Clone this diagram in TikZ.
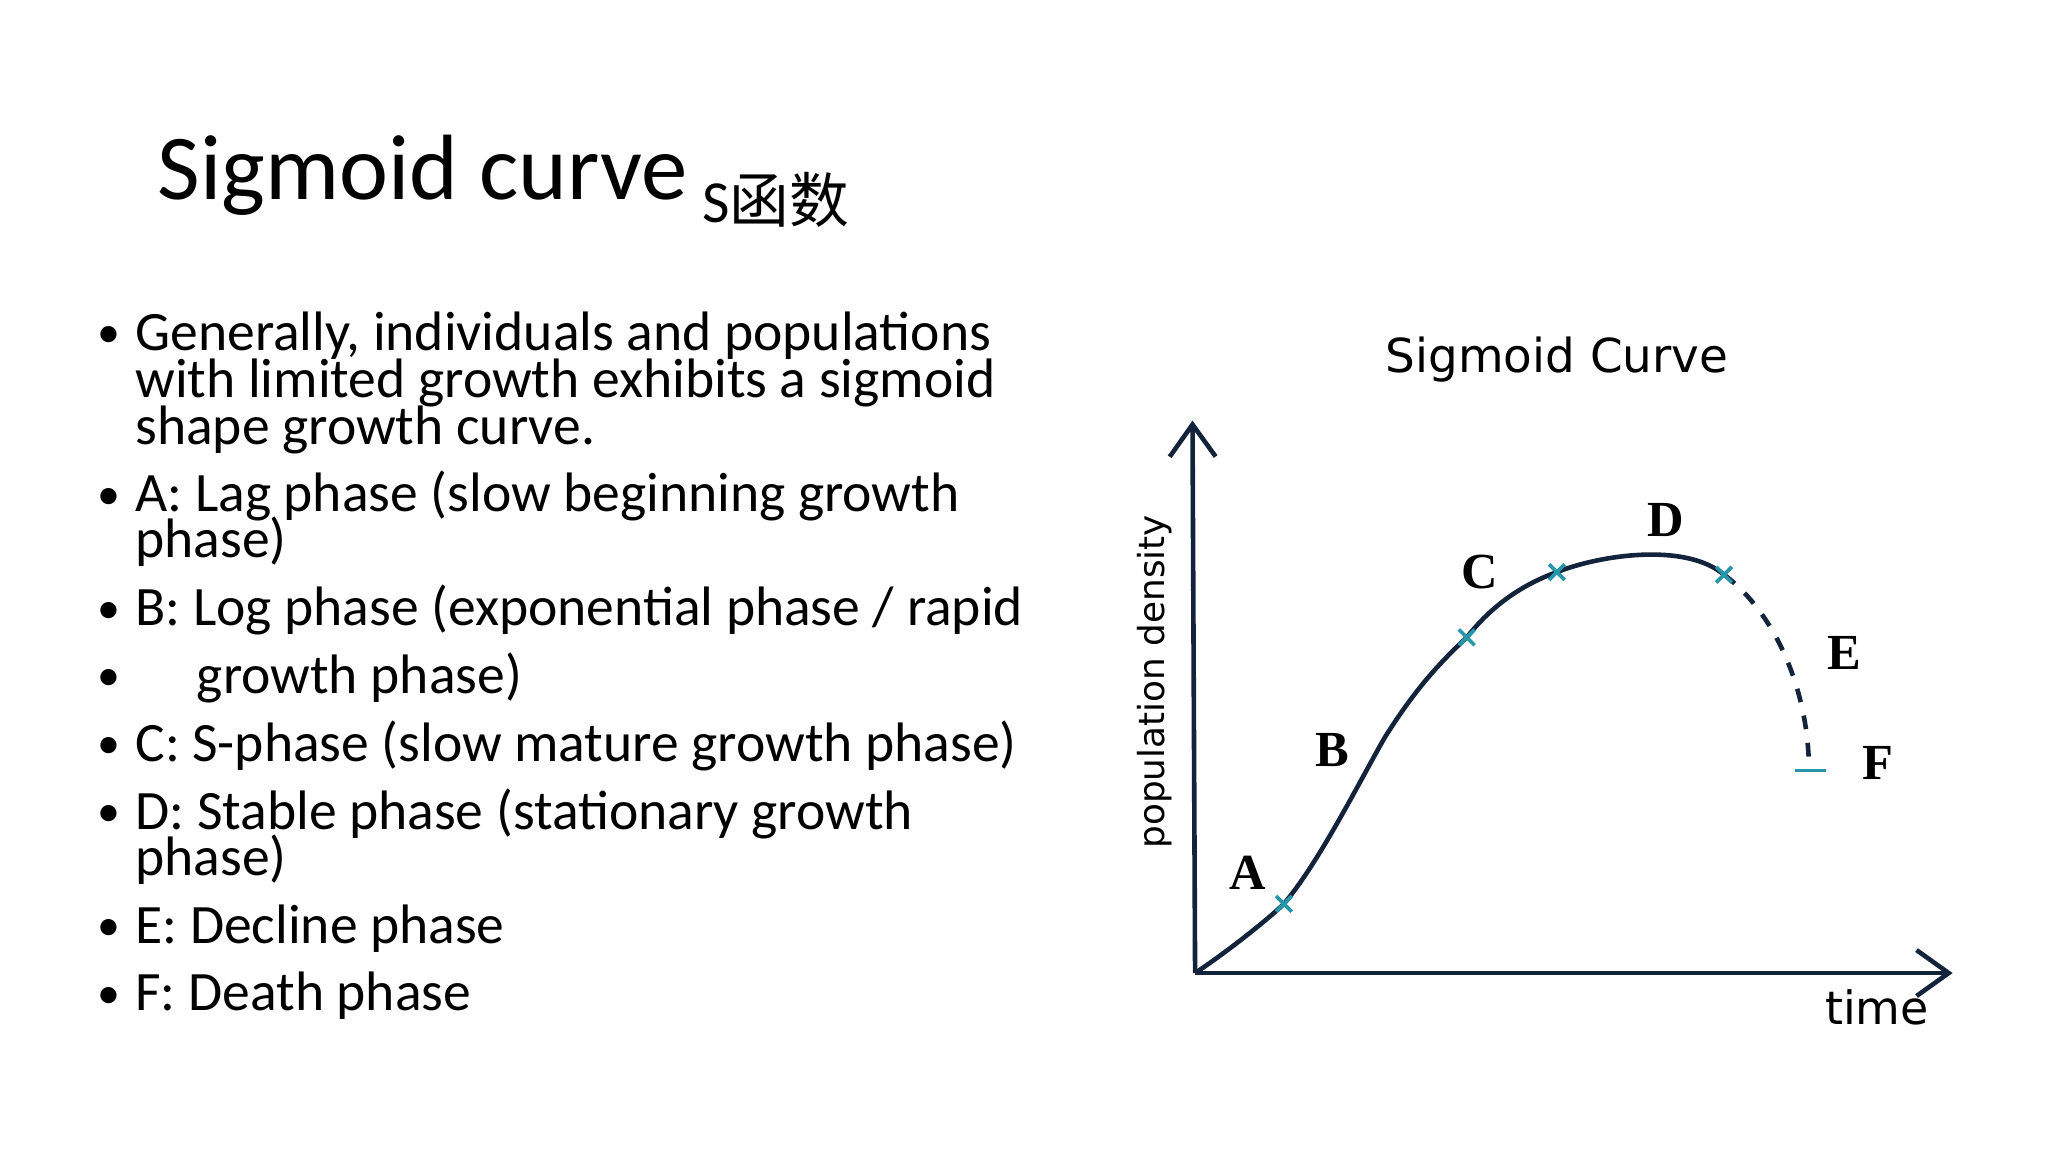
\documentclass[tikz,border=0pt]{standalone}
\usepackage{fontspec}
\setmainfont{Carlito}
\newfontfamily\cjk{Noto Sans CJK SC}
\newfontfamily\lab{Liberation Serif}
\newfontfamily\gsans{DejaVu Sans}
\usetikzlibrary{arrows.meta,calc}
\definecolor{curvec}{RGB}{20,35,60}
\definecolor{tickc}{RGB}{40,150,170}
\begin{document}
\begin{tikzpicture}[x=0.01cm,y=-0.01cm,
  txt/.style={anchor=base west,inner sep=0,font=\fontsize{12.1}{12}\selectfont},
  bul/.style={anchor=base west,inner sep=0,font=\fontsize{10}{10}\selectfont},
  lett/.style={font=\lab\bfseries\fontsize{11}{11}\selectfont,inner sep=0},
  tk/.style={tickc,line width=0.8pt}]
\useasboundingbox (0,0) rectangle (1568,882);
\fill[white] (0,0) rectangle (1568,882);
\node[anchor=base west,inner sep=0,font=\fontsize{20.2}{20}\selectfont] (title) at (120,153) {Sigmoid curve};
\node[anchor=base west,inner sep=0,font=\fontsize{13}{13}\selectfont] (sub) at (537,170) {S{\cjk 函数}};
% bullets
\foreach \y/\n in {266/b1,390/b2,477/b3,529/b4,581/b5,633/b6,720/b7,772/b8}
  \node[bul] (\n) at (74,\y) {•};
\node[txt] (t1) at (103,268) {Generally, individuals and populations};
\node[txt] (t1b) at (103,304) {with limited growth exhibits a sigmoid};
\node[txt] (t1c) at (103,340) {shape growth curve.};
\node[txt] (t2) at (103,392) {A: Lag phase (slow beginning growth};
\node[txt] (t2b) at (103,427) {phase)};
\node[txt] (t3) at (103,479) {B: Log phase (exponential phase / rapid};
\node[txt] (t4) at (150,531) {growth phase)};
\node[txt] (t5) at (103,583) {C: S-phase (slow mature growth phase)};
\node[txt] (t6) at (103,635) {D: Stable phase (stationary growth};
\node[txt] (t6b) at (103,670) {phase)};
\node[txt] (t7) at (103,722) {E: Decline phase};
\node[txt] (t8) at (103,774) {F: Death phase};
% graph
\node[font=\gsans\fontsize{10.2}{10}\selectfont,inner sep=0] (gt) at (1192,275) {Sigmoid Curve};
\coordinate (O) at (915,745);
\coordinate (Ytop) at (913,322);
\coordinate (Xend) at (1495,745);
\draw[curvec,line width=1pt,-{Straight Barb[length=7pt,width=10pt]}] (O) -- (Ytop);
\draw[curvec,line width=1pt,-{Straight Barb[length=7pt,width=10pt]}] (O) -- (Xend);
\node[font=\gsans\fontsize{7.8}{8}\selectfont,rotate=90,inner sep=0] (yl) at (884,522) {population density};
\node[font=\gsans\fontsize{10}{10}\selectfont,inner sep=0] (xl) at (1437,771) {time};
\coordinate (pA) at (983,692);
\coordinate (pB) at (1123,488);
\coordinate (pC) at (1192,438);
\coordinate (pD) at (1320,440);
\coordinate (pF) at (1385,590);
\draw[curvec,line width=1pt] (O) .. controls (945,725) and (975,700) .. (pA)
  .. controls (1010,660) and (1040,600) .. (1060,565)
  .. controls (1085,525) and (1105,505) .. (pB)
  .. controls (1145,460) and (1170,446) .. (pC)
  .. controls (1225,425) and (1290,415) .. (pD);
\draw[curvec,line width=1pt,dashed] (pD) .. controls (1360,470) and (1385,530) .. (pF);
\foreach \p in {pA,pB,pC,pD}
  \draw[tk] ($(\p)+(-6,-6)$) -- ($(\p)+(6,6)$) ($(\p)+(-6,6)$) -- ($(\p)+(6,-6)$);
\draw[tk] (1374,590) -- (1398,590);
\node[lett] (A) at (955,668) {A};
\node[lett] (B) at (1020,574) {B};
\node[lett] (C) at (1133,438) {C};
\node[lett] (D) at (1275,398) {D};
\node[lett] (E) at (1412,500) {E};
\node[lett] (F) at (1438,584) {F};
\end{tikzpicture}
\end{document}
